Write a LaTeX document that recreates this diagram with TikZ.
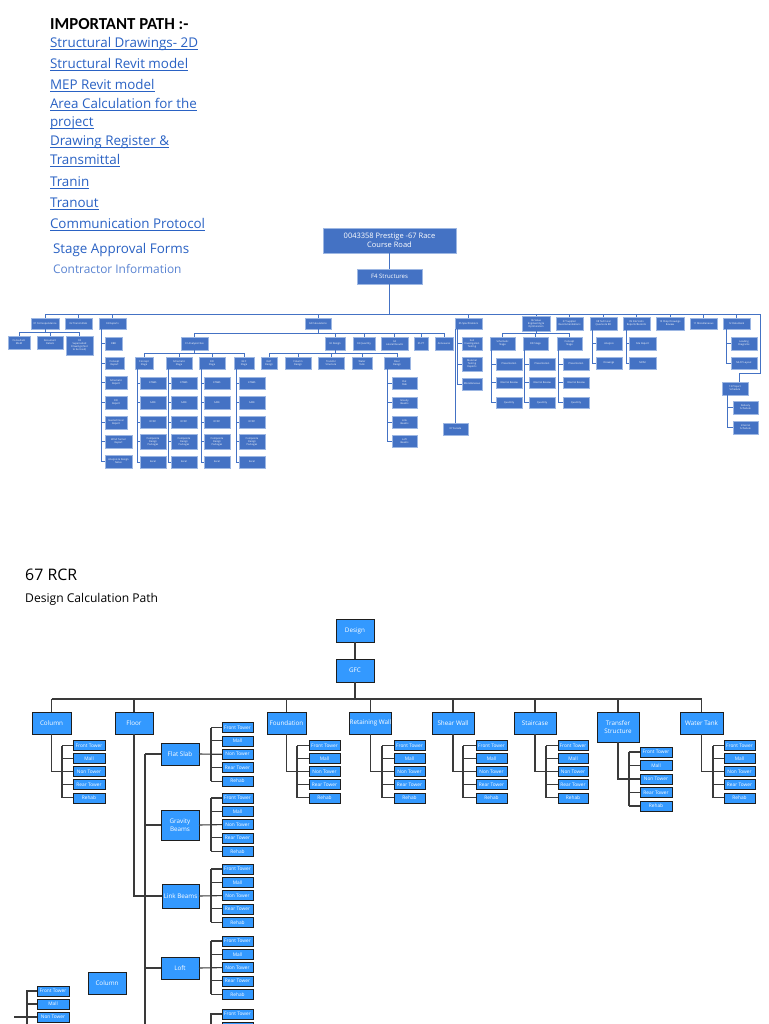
\documentclass[tikz,border=0pt]{standalone}
\usepackage{fontspec}
\setmainfont{Open Sans}
\newfontfamily\headfont{Carlito}
\usetikzlibrary{calc}
\definecolor{linkblue}{HTML}{2A62C4}
\definecolor{lightlink}{HTML}{5A84D2}
\definecolor{tfill}{HTML}{4472C4}
\definecolor{tedge}{HTML}{9DB7E3}
\definecolor{bfill}{HTML}{3399FF}
\definecolor{bedge}{HTML}{1E1E1E}
\definecolor{bconn}{HTML}{3A3A3A}
\tikzset{
  linktext/.style={inner sep=0pt,outer sep=0pt,anchor=west,text=linkblue,font=\fontsize{13.4}{15}\selectfont,text height=10pt,text depth=3.5pt},
  tbox/.style={draw=tedge,line width=0.4pt,fill=tfill,text=white,inner sep=0pt,outer sep=0pt,align=center,font=\fontsize{2.5}{3}\selectfont},
  rootbox/.style={tbox,font=\fontsize{7.5}{9}\selectfont},
  tline/.style={draw=tfill,line width=0.9pt},
  bbox/.style={draw=bedge,line width=0.8pt,fill=bfill,text=white,inner sep=0pt,outer sep=0pt,align=center,font=\fontsize{6.3}{7.5}\selectfont},
  leafbox/.style={bbox,minimum height=10pt,font=\fontsize{4.8}{5.5}\selectfont},
  bline/.style={draw=bconn,line width=1.1pt}
}
\newcommand{\tb}[7][tbox]{\node[#1,minimum width={((#5)-(#3))*1pt},minimum height={((#6)-(#4))*1pt}] (#2) at ({((#3)+(#5))/2},{((#4)+(#6))/2}) {#7};}
\newcommand{\bb}[6]{\node[bbox,minimum width={((#4)-(#2))*1pt},minimum height={((#5)-(#3))*1pt}] (#1) at ({((#2)+(#4))/2},{((#3)+(#5))/2}) {#6};}
% leaves: prefix, x1, x2, ytop, step, comb x
\newcommand{\leafset}[6]{%
  \foreach \i/\t in {1/Front Tower,2/Mall,3/Non Tower,4/Rear Tower,5/Rehab}{%
    \node[leafbox,minimum width={((#3)-(#2))*1pt}] (#1\i) at ({((#2)+(#3))/2},{(#4)+(\i-1)*(#5)}) {\t};
    \draw[bline] (#1\i.west) -- (#6,{(#4)+(\i-1)*(#5)});
  }%
  \draw[bline] (#6,#4) -- (#6,{(#4)+4*(#5)});
}
% stage leaves in top chart: name, left x
\newcommand{\stg}[2]{%
  \tb{#1a}{(#2)+5}{377}{(#2)+31}{389}{ETABS}
  \tb{#1b}{(#2)+5}{396}{(#2)+31}{409}{SAFE}
  \tb{#1c}{(#2)+5}{416}{(#2)+31}{428}{RCDC}
  \tb{#1d}{(#2)+5}{434}{(#2)+31}{449}{Composite\\Design\\Packages}
  \tb{#1e}{(#2)+5}{456}{(#2)+31}{468}{Excel}
  \foreach \k in {a,b,c,d,e}{\draw[tline] (#1.south west) ++(2,0) |- (#1\k.west);}
}
\newcommand{\vestg}[2]{%
  \tb{#1a}{(#2)+6}{358}{(#2)+32}{370}{Presentation}
  \tb{#1b}{(#2)+6}{377}{(#2)+32}{388}{Internal Review}
  \tb{#1c}{(#2)+6}{397}{(#2)+32}{408}{Quantity}
  \foreach \k in {a,b,c}{\draw[tline] (#1.south west) ++(1.5,0) |- (#1\k.west);}
}
\begin{document}
\begin{tikzpicture}[x=1pt,y=-1pt]
\useasboundingbox (0,0) rectangle (768,1024);
\fill[white] (0,0) rectangle (768,1024);
\clip (0,0) rectangle (768,1024);

% ---------------- link list ----------------
\node[inner sep=0pt,anchor=west,font=\headfont\bfseries\fontsize{16.8}{19}\selectfont] (imp) at (50,24) {IMPORTANT PATH :-};
\foreach \n/\y/\t in {l1/44/Structural Drawings- 2D,l2/65/Structural Revit model,l3/86/MEP Revit model,l4/105/Area Calculation for the,l5/123/project,l6/142/Drawing Register \&,l7/161/Transmittal,l8/183/Tranin,l9/204/Tranout,l10/225/Communication Protocol}{
  \node[linktext] (\n) at (50,\y) {\t};
  \draw[linkblue,line width=0.7pt] ([yshift=1.6pt]\n.south west) -- ([yshift=1.6pt]\n.south east);
}
\node[linktext] (saf) at (53,250) {Stage Approval Forms};
\node[linktext,text=lightlink,font=\fontsize{11.9}{13}\selectfont] (ci) at (53,270) {Contractor Information};

% ---------------- top chart ----------------
\tb[rootbox]{root}{323}{228}{456}{253}{0043358 Prestige -67 Race\\Course Road}
\tb[rootbox]{f4}{357}{269}{422}{284}{\fontsize{6}{7}\selectfont F4 Structures}
\draw[tline] (root) -- (f4);
\coordinate (bus) at (0,314);

\tb{a01}{31}{318}{59}{329}{01 Correspondence}
\tb{a02}{65}{318}{92}{329}{02 Transmittals}
\tb{a03}{99}{318}{126}{329}{03 Reports}
\tb{a04}{305}{318}{331}{329}{04 Calculations}
\tb{a05}{455}{318}{482}{329}{05 Specifications}
\tb{a06}{522}{316}{550}{331}{06 Value\\Engineering \&\\Optimization}
\tb{a07}{556}{317}{583}{330}{07 Supplier\\Recommendations}
\tb{a08}{590}{317}{617}{330}{08 Technical\\Queries \& RFI}
\tb{a09}{623}{317}{650}{330}{09 Site Visits\\Reports/Records}
\tb{a10}{656}{317}{684}{330}{10 Shop Drawings\\Review}
\tb{a11}{690}{318}{717}{329}{11 Miscellaneous}
\tb{a12}{723}{318}{750}{329}{12 Data Bank}
\tb{a13}{722}{382}{748}{395}{13 Project\\Schedule}

\draw[tline] (f4.south) -- (f4.south |- bus);
\draw[tline] (a01.north |- bus) -- (760,314) -- (760,373) -- (739,373) -- (a13.north -| 739,0);
\foreach \n in {a01,a02,a03,a04,a05,a06,a07,a08,a09,a10,a11,a12}{\draw[tline] (\n.north) -- (\n.north |- bus);}

% 01 children
\tb{c011}{8}{336}{30}{349}{Consultant\\MoM}
\tb{c012}{37}{336}{63}{349}{Document\\Details}
\tb{c013}{66}{336}{93}{355}{03\\Superseded\\Drawings (Not\\to be Used)}
\foreach \n in {c011,c012,c013}{\draw[tline] (a01.south) -- ++(0,3.5) -| (\n.north);}

% 03 children
\tb{r1}{105}{337}{122}{350}{DBR}
\tb{r2}{105}{357}{124}{369}{Concept\\Report}
\tb{r3}{105}{376}{127}{389}{Schematic\\Report}
\tb{r4}{105}{396}{127}{409}{DD\\Report}
\tb{r5}{105}{416}{127}{429}{Geotechnical\\Report}
\tb{r6}{105}{435}{132}{448}{Wind Tunnel\\Report}
\tb{r7}{105}{455}{132}{468}{Analysis \& Design\\Notes}
\foreach \n in {r1,r2,r3,r4,r5,r6,r7}{\draw[tline] (a03.south west) ++(2,0) |- (\n.west);}

% 04 children
\tb{b1}{181}{337}{208}{350}{01 Analysis Files}
\tb{b2}{325}{337}{345}{350}{02 Design}
\tb{b3}{353}{337}{375}{350}{03 Quantity}
\tb{b4}{381}{337}{408}{350}{04\\Lateral Results}
\tb{b5}{414}{337}{428}{350}{05 PT}
\tb{b6}{435}{337}{453}{350}{Annexures}
\foreach \n in {b1,b2,b3,b4,b5,b6}{\draw[tline] (a04.south) -- ++(0,4) -| (\n.north);}

\tb{s1}{135}{357}{153}{369}{Concept\\Stage}
\tb{s2}{166}{357}{192}{369}{Schematic\\Stage}
\tb{s3}{199}{357}{225}{369}{DD\\Stage}
\tb{s4}{234}{357}{254}{369}{GFC\\Stage}
\foreach \n in {s1,s2,s3,s4}{\draw[tline] (b1.south) -- ++(0,3.5) -| (\n.north);}
\stg{s1}{135}
\stg{s2}{166}
\stg{s3}{199}
\stg{s4}{234}

\tb{d1}{261}{357}{277}{369}{Raft\\Design}
\tb{d2}{285}{357}{311}{369}{Column\\Design}
\tb{d3}{318}{357}{344}{369}{Transfer\\Structure}
\tb{d4}{352}{357}{372}{369}{Water\\Tank}
\tb{d5}{384}{357}{410}{369}{Floor\\Design}
\foreach \n in {d1,d2,d3,d4,d5}{\draw[tline] (b2.south) -- ++(0,3.5) -| (\n.north);}
\tb{d5a}{392}{377}{417}{389}{Flat\\Slab}
\tb{d5b}{392}{397}{417}{408}{Gravity\\Beams}
\tb{d5c}{392}{416}{417}{428}{Link\\Beams}
\tb{d5d}{392}{435}{417}{447}{Loft\\Beams}
\foreach \k in {a,b,c,d}{\draw[tline] (d5.south west) ++(3,0) |- (d5\k.west);}

% 05 children
\tb{e1}{462}{337}{482}{350}{Soil\\Investigation\\Testing}
\tb{e2}{462}{357}{482}{371}{Material\\Testing\\Reports}
\tb{e3}{462}{378}{482}{390}{Miscellaneous}
\foreach \n in {e1,e2,e3}{\draw[tline] (a05.south west) ++(2,0) |- (\n.west);}
\tb{fac}{443}{423}{468}{435}{07 Facade}
\draw[tline] (fac.north) -- (fac.north |- a05.south);

% 06 children
\tb{g1}{490}{337}{515}{350}{Schematic\\Stage}
\tb{g2}{523}{337}{548}{350}{DD Stage}
\tb{g3}{557}{337}{582}{350}{Concept\\Stage}
\foreach \n in {g1,g2,g3}{\draw[tline] (a06.south) -- ++(0,2.5) -| (\n.north);}
\vestg{g1}{490}
\vestg{g2}{523}
\vestg{g3}{557}

% 08, 09, 12, 13 children
\tb{h1}{596}{337}{622}{350}{Analysis}
\tb{h2}{596}{357}{622}{369}{Drawings}
\foreach \n in {h1,h2}{\draw[tline] (a08.south west) ++(2,0) |- (\n.west);}
\tb{i1}{629}{337}{656}{350}{Site Report}
\tb{i2}{629}{357}{656}{369}{MOM}
\foreach \n in {i1,i2}{\draw[tline] (a09.south west) ++(3,0) |- (\n.west);}
\tb{k1}{731}{337}{757}{350}{Loading\\Diagrams}
\tb{k2}{731}{357}{757}{369}{MLCP Layout}
\foreach \n in {k1,k2}{\draw[tline] (a12.south west) ++(3,0) |- (\n.west);}
\tb{m1}{733}{401}{758}{414}{Delivery\\Schedule}
\tb{m2}{733}{421}{758}{434}{Internal\\Schedule}
\foreach \n in {m1,m2}{\draw[tline] (a13.south west) ++(5,0) |- (\n.west);}

% ---------------- second part ----------------
\node[inner sep=0pt,anchor=west,font=\fontsize{15.9}{18}\selectfont] (rcr) at (25,575) {67 RCR};
\node[inner sep=0pt,anchor=west,font=\fontsize{12.1}{14}\selectfont] (dcp) at (25,599) {Design Calculation Path};

\bb{design}{336}{619}{374}{642}{Design}
\bb{gfc}{336}{659}{374}{682}{GFC}
\draw[bline] (design) -- (gfc);
\coordinate (bbus) at (0,699);

\bb{col}{32}{712}{71}{734}{Column}
\bb{flr}{115}{712}{153}{734}{Floor}
\bb{fnd}{267}{712}{306}{734}{Foundation}
\bb{rw}{350}{712}{391}{734}{Retaining Wall}
\bb{sw}{432}{712}{474}{734}{Shear Wall}
\bb{st}{514}{712}{556}{734}{Staircase}
\bb{ts}{597}{712}{639}{742}{Transfer\\Structure}
\bb{wt}{680}{712}{723}{734}{Water Tank}

\draw[bline] (gfc.south) -- (gfc.south |- bbus);
\draw[bline] (col.north |- bbus) -- (wt.north |- bbus);
\foreach \n in {col,flr,fnd,rw,sw,st,ts,wt}{\draw[bline] (\n.north) -- (\n.north |- bbus);}

\leafset{colL}{73}{105}{745.5}{13.1}{62}
\leafset{fndL}{309}{340}{745.5}{13.1}{297}
\leafset{rwL}{394}{425}{745.5}{13.1}{382}
\leafset{swL}{476}{507}{745.5}{13.1}{463}
\leafset{stL}{558}{588}{745.5}{13.1}{546}
\leafset{tsL}{640}{672}{752}{13.5}{629}
\leafset{wtL}{724}{755}{745.5}{13.1}{713}
\foreach \n in {col,fnd,rw,sw,st,ts,wt}{\draw[bline] (\n.south) |- (\n L3.west);}

% floor subtree
\bb{fs}{161}{743}{199}{765}{Flat Slab}
\bb{gb}{161}{810}{199}{840}{Gravity\\Beams}
\bb{lb}{162}{884}{199}{908}{Link Beams}
\bb{lf}{161}{957}{199}{979}{Loft}
\draw[bline] (flr.south) |- (lb.west);
\coordinate (fx) at (145,0);
\coordinate (fxend) at (145,1030);
\draw[bline] (fs.west -| fx) -- (fxend);
\foreach \n in {fs,gb,lb,lf}{\draw[bline] (\n.west) -- (\n.west -| fx);}
\leafset{fsL}{222}{253}{727.5}{13.4}{211}
\leafset{gbL}{222}{253}{798}{13.3}{211}
\leafset{lbL}{222}{253}{869}{13.3}{211}
\leafset{lfL}{222}{253}{941}{13.3}{211}
\foreach \n in {fs,gb,lb,lf}{\draw[bline] (\n.east) -- (\n L3.west);}
% partly visible group at the bottom edge
\node[leafbox,minimum width=31pt] (nxL1) at (237.5,1014) {Front Tower};
\node[leafbox,minimum width=31pt] (nxL2) at (237.5,1027.3) {};
\coordinate (nxc) at (211,1030);
\draw[bline] (nxL1.west) -- (nxL1.west -| nxc) -- (nxc);
\draw[bline] (nxL2.west) -- (nxL2.west -| nxc);

% bottom-left fragment
\bb{col2}{88}{972}{126}{994}{Column}
\node[leafbox,minimum width=32pt] (cl1) at (53,991) {Front Tower};
\node[leafbox,minimum width=32pt] (cl2) at (53,1004) {Mall};
\node[leafbox,minimum width=32pt] (cl3) at (53,1017) {Non Tower};
\coordinate (clc) at (27,1030);
\draw[bline] (cl1.west) -- (cl1.west -| clc) -- (clc);
\foreach \n in {cl2,cl3}{\draw[bline] (\n.west) -- (\n.west -| clc);}
\coordinate (cin) at (14,1017);
\draw[bline] (cin) -- (cl3.west);
\end{tikzpicture}
\end{document}
